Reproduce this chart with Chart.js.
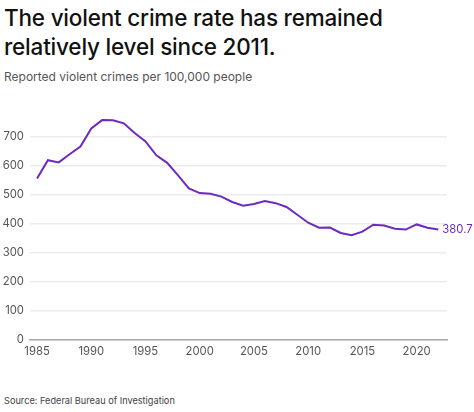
<!DOCTYPE html>
<html>
<head>
<meta charset="utf-8">
<script src="https://cdn.jsdelivr.net/npm/chart.js@4"></script>
<style>
  body { margin: 0; background: #fff; font-family: Inter, "Open Sans", sans-serif; }
  #wrap { position: relative; width: 474px; height: 412px; overflow: hidden; }
  .title { position: absolute; left: 4px; top: 3px; font-size: 22.5px; line-height: 29px; font-weight: 500; color: #111; letter-spacing: -0.2px; }
  .sub { position: absolute; left: 4px; top: 69px; font-size: 12px; color: #555; }
  .src { position: absolute; left: 4px; top: 395px; font-size: 9.2px; color: #444; }
  #chartBox { position: absolute; left: 0; top: 100px; width: 474px; height: 270px; }
</style>
</head>
<body>
<div id="wrap">
  <div class="title">The violent crime rate has remained<br>relatively level since 2011.</div>
  <div class="sub">Reported violent crimes per 100,000 people</div>
  <div id="chartBox"><canvas id="crime"></canvas></div>
  <div class="src">Source: Federal Bureau of Investigation</div>
</div>
<script>
var years = [1985,1986,1987,1988,1989,1990,1991,1992,1993,1994,1995,1996,1997,1998,1999,
             2000,2001,2002,2003,2004,2005,2006,2007,2008,2009,2010,2011,2012,2013,2014,
             2015,2016,2017,2018,2019,2020,2021,2022];
var rate = [556.6,620.1,612.5,640.6,666.9,729.6,758.2,757.7,747.1,713.6,684.5,636.6,611.0,567.6,523.0,
            506.5,504.5,494.4,475.8,463.2,469.0,479.3,471.8,458.6,431.9,404.5,387.1,387.8,369.1,361.6,
            373.7,397.5,394.9,383.4,380.8,398.5,387.0,380.7];
var yearTicks = [1985,1990,1995,2000,2005,2010,2015,2020];
var rateTicks = [0,100,200,300,400,500,600,700];

var purple = 'rgb(108, 43, 190)';

var endLabel = {
  id: 'endLabel',
  afterDatasetsDraw: function(chart) {
    var pts = chart.getDatasetMeta(0).data;
    var last = pts[pts.length - 1];
    var c = chart.ctx;
    c.save();
    c.fillStyle = purple;
    c.font = '11.3px Inter, "Open Sans", sans-serif';
    c.textBaseline = 'middle';
    c.fillText(rate[rate.length - 1].toFixed(1), last.x + 4, last.y);
    c.restore();
  }
};

var ctx = document.getElementById('crime').getContext('2d');
var myChart = new Chart(ctx, {
  type: 'line',
  data: {
    datasets: [{
      data: years.map(function(y, i) { return { x: y, y: rate[i] }; }),
      borderColor: purple,
      borderWidth: 2,
      pointRadius: 0,
      tension: 0,
      fill: false
    }]
  },
  options: {
    responsive: true,
    maintainAspectRatio: false,
    animation: false,
    layout: { padding: { top: 13.8, right: 27, left: 0, bottom: 0 } },
    plugins: { legend: { display: false }, tooltip: { enabled: false } },
    scales: {
      x: {
        type: 'linear',
        min: 1984.35,
        max: 2022.8,
        afterBuildTicks: function(scale) { scale.ticks = yearTicks.map(function(v) { return { value: v }; }); },
        afterFit: function(scale) { scale.height = 30; },
        grid: { display: false, drawTicks: false },
        border: { display: true, color: '#a8a8a8', width: 1.5 },
        ticks: {
          padding: 5,
          color: '#555',
          font: { size: 11.3, family: 'Inter, "Open Sans", sans-serif' },
          maxRotation: 0,
          autoSkip: false,
          callback: function(v) { return String(v); }
        }
      },
      y: {
        min: 0,
        max: 780,
        afterBuildTicks: function(scale) { scale.ticks = rateTicks.map(function(v) { return { value: v }; }); },
        afterFit: function(scale) { scale.width = 30; },
        grid: { color: '#ececec', drawTicks: false, lineWidth: 1.5 },
        border: { display: false },
        ticks: {
          padding: 6,
          color: '#555',
          font: { size: 11.3, family: 'Inter, "Open Sans", sans-serif' }
        }
      }
    }
  },
  plugins: [endLabel]
});
</script>
</body>
</html>
